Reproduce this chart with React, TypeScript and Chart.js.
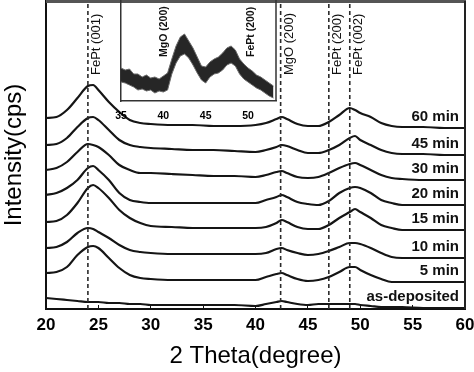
import React, { useEffect, useRef } from 'react';
import { Chart, registerables } from 'chart.js';

Chart.register(...registerables);

const FONT = "'Liberation Sans', Arial, Helvetica, sans-serif";

// 2θ positions (degree) at which the main patterns were read
const twoTheta = [20, 21, 22, 23, 24, 24.5, 25, 26, 27, 28, 29, 30, 32, 34, 36, 38, 40, 41, 42, 42.5, 43, 44, 45, 46, 47, 48, 49, 49.5, 50, 51, 52, 53, 54, 56, 58, 60];

const seriesLabels = ['60 min', '45 min', '30 min', '20 min', '15 min', '10 min', '5 min', 'as-deposited'];

// stacked intensity (arbitrary units, offset per pattern)
const min60 = [191, 192, 199, 211, 223, 224, 219, 207, 197, 189, 186, 185, 184, 184, 183, 183, 184, 186, 190, 192, 190, 185, 183, 183, 187, 194, 201, 199, 196, 192, 186, 183, 182, 182, 181, 181];
const min45 = [164, 165, 171, 182, 191, 192, 189, 179, 169, 164, 162, 161, 160, 159, 159, 158, 157, 159, 162, 164, 163, 159, 156, 156, 159, 164, 171, 173, 169, 164, 159, 156, 155, 155, 154, 154];
const min30 = [139, 141, 147, 157, 165, 164, 162, 154, 144, 139, 136, 136, 135, 134, 133, 133, 132, 134, 137, 138, 136, 132, 131, 132, 136, 141, 145, 146, 144, 139, 134, 131, 130, 129, 129, 129];
const min20 = [114, 116, 121, 129, 141, 143, 139, 129, 116, 109, 107, 106, 106, 106, 106, 106, 106, 109, 112, 114, 112, 107, 105, 104, 108, 116, 121, 122, 121, 116, 109, 106, 104, 104, 104, 104];
const min15 = [87, 88, 94, 106, 121, 124, 121, 111, 99, 91, 86, 83, 82, 81, 81, 81, 81, 82, 86, 89, 87, 82, 80, 80, 84, 91, 97, 100, 97, 91, 84, 81, 79, 79, 79, 79];
const min10 = [61, 62, 67, 76, 81, 80, 77, 71, 64, 59, 57, 56, 55, 55, 55, 55, 55, 56, 60, 61, 59, 56, 54, 55, 58, 62, 66, 66, 65, 61, 56, 52, 51, 51, 51, 51];
const min5 = [36, 37, 42, 54, 62, 63, 61, 51, 41, 34, 31, 30, 29, 29, 29, 29, 29, 32, 35, 36, 34, 30, 28, 29, 32, 37, 42, 42, 39, 34, 30, 27, 27, 27, 27, 27];
const asDeposited = [11, 10, 9, 8, 7, 7, 7, 6, 6, 5, 5, 4, 4, 4, 4, 4, 3, 5, 7, 8, 7, 5, 4, 5, 5, 5, 5, 5, 4, 3, 2, 2, 2, 1, 1, 1];

const seriesValues = [min60, min45, min30, min20, min15, min10, min5, asDeposited];

// reference peak positions (dashed lines)
const peakPositions = [24.0, 42.4, 47.0, 49.0];
const peakLabels = ['FePt (001)', 'MgO (200)', 'FePt (200)', 'FePt (002)'];

// inset pattern: upper / lower envelope of the noisy trace
const insetTheta = [35, 35.5, 36, 36.5, 37, 37.5, 38, 38.5, 39, 39.5, 40, 40.5, 41, 41.5, 42, 42.5, 43, 43.5, 44, 44.5, 45, 45.5, 46, 46.5, 47, 47.5, 48, 48.5, 49, 49.5, 50, 50.5, 51, 51.5, 52, 52.5, 53];
const insetUpper = [33, 31, 32, 27, 27, 24, 26, 23, 24, 22, 25, 28, 42, 55, 64, 67, 60, 53, 44, 35, 34, 39, 42, 44, 48, 53, 55, 51, 42, 37, 33, 30, 26, 24, 21, 18, 15];
const insetLower = [19, 18, 16, 14, 11, 12, 10, 11, 8, 10, 9, 11, 27, 38, 45, 47, 43, 36, 28, 21, 18, 24, 27, 28, 31, 36, 38, 35, 27, 22, 19, 16, 13, 11, 8, 5, 3];
const insetPeakLabels = ['MgO (200)', 'FePt (200)'];

const mainXTicks = { min: 20, max: 60, step: 5 };
const insetXTicks = { min: 35, max: 53.3, step: 5 };

export default function App() {
  const mainRef = useRef<HTMLCanvasElement>(null);
  const insetRef = useRef<HTMLCanvasElement>(null);

  useEffect(() => {
    document.body.style.margin = '0';
    const mainCanvas = mainRef.current!;
    const insetCanvas = insetRef.current!;

    const curveSets = seriesValues.map((vals, i) => ({
      label: seriesLabels[i],
      data: twoTheta.map((x, j) => ({ x, y: vals[j] })),
      borderColor: '#151515',
      borderWidth: 2.2,
      pointRadius: 0,
      cubicInterpolationMode: 'monotone' as const,
      fill: false,
    }));
    const dashSets = peakPositions.map((p, i) => ({
      label: peakLabels[i],
      data: [{ x: p, y: 0 }, { x: p, y: 308 }],
      borderColor: '#2a2a2a',
      borderWidth: 1.6,
      borderDash: [4, 3],
      pointRadius: 0,
      fill: false,
    }));

    const mainDecor = {
      id: 'mainDecor',
      afterDraw(chart: any) {
        const { ctx, chartArea, scales } = chart;
        const xs = scales.x;
        const ys = scales.y;
        ctx.save();
        ctx.strokeStyle = '#555';
        ctx.lineWidth = 3;
        ctx.beginPath();
        ctx.moveTo(chartArea.left, chartArea.top + 0.5);
        ctx.lineTo(chartArea.right + 1, chartArea.top + 0.5);
        ctx.stroke();
        ctx.strokeStyle = '#222';
        ctx.lineWidth = 2;
        ctx.beginPath();
        ctx.moveTo(chartArea.right, chartArea.top);
        ctx.lineTo(chartArea.right, chartArea.bottom);
        ctx.stroke();
        ctx.fillStyle = '#111';
        ctx.font = `13px ${FONT}`;
        ctx.textAlign = 'left';
        ctx.textBaseline = 'alphabetic';
        peakPositions.forEach((p, i) => {
          const px = xs.getPixelForValue(p);
          ctx.save();
          ctx.translate(px + 12.5, chartArea.top + 74);
          ctx.rotate(-Math.PI / 2);
          ctx.fillText(peakLabels[i], 0, 0);
          ctx.restore();
        });
        ctx.font = `bold 15px ${FONT}`;
        ctx.textAlign = 'right';
        ctx.textBaseline = 'alphabetic';
        seriesValues.forEach((vals, i) => {
          const y = ys.getPixelForValue(vals[vals.length - 1]);
          ctx.fillText(seriesLabels[i], chartArea.right - 6, y - 7);
        });
        ctx.restore();
      },
    };

    const mainChart = new Chart(mainCanvas, {
      type: 'line',
      data: { datasets: [...dashSets, ...curveSets] as any },
      options: {
        responsive: false,
        animation: false,
        events: [],
        layout: { padding: { left: 0, top: 1, right: 9, bottom: 0 } },
        plugins: { legend: { display: false }, tooltip: { enabled: false } },
        scales: {
          x: {
            type: 'linear',
            min: mainXTicks.min,
            max: mainXTicks.max,
            afterFit: (s: any) => { s.height = 63; s.paddingRight = 0; s.paddingLeft = 0; },
            grid: { display: true, drawOnChartArea: false, drawTicks: true, tickLength: -4, color: '#111', lineWidth: 1 },
            border: { display: true, color: '#111', width: 2 },
            ticks: { stepSize: mainXTicks.step, color: '#000', padding: 10, font: { family: FONT, size: 17, weight: 'bold' }, includeBounds: false },
            title: { display: true, text: '2 Theta(degree)', color: '#000', font: { family: FONT, size: 24 }, padding: { top: 0, bottom: 1 } },
          },
          y: {
            type: 'linear',
            min: 0,
            max: 308,
            afterFit: (s: any) => { s.width = 46; },
            grid: { display: false },
            border: { display: true, color: '#111', width: 2 },
            ticks: { display: false },
            title: { display: true, text: 'Intensity(cps)', color: '#000', font: { family: FONT, size: 24 }, padding: { top: 0, bottom: 0 } },
          },
        },
      },
      plugins: [mainDecor],
    });

    const insetDecor = {
      id: 'insetDecor',
      afterDraw(chart: any) {
        const { ctx, chartArea, scales } = chart;
        const xs = scales.x;
        ctx.save();
        ctx.strokeStyle = '#333';
        ctx.lineWidth = 1.5;
        ctx.beginPath();
        ctx.moveTo(chartArea.right, chartArea.top);
        ctx.lineTo(chartArea.right, chartArea.bottom);
        ctx.stroke();
        ctx.fillStyle = '#111';
        ctx.font = `bold 10.5px ${FONT}`;
        ctx.textAlign = 'left';
        ctx.textBaseline = 'alphabetic';
        [40.4, 50.7].forEach((p, i) => {
          const px = xs.getPixelForValue(p);
          ctx.save();
          ctx.translate(px, chartArea.top + 57);
          ctx.rotate(-Math.PI / 2);
          ctx.fillText(insetPeakLabels[i], 0, 0);
          ctx.restore();
        });
        ctx.restore();
      },
    };

    const insetChart = new Chart(insetCanvas, {
      type: 'line',
      data: {
        datasets: [
          {
            label: 'upper',
            data: insetTheta.map((x, i) => ({ x, y: insetUpper[i] })),
            borderColor: '#6a6a6a',
            borderWidth: 1,
            pointRadius: 0,
            tension: 0,
            fill: false,
          },
          {
            label: 'lower',
            data: insetTheta.map((x, i) => ({ x, y: insetLower[i] })),
            borderColor: '#6a6a6a',
            borderWidth: 1,
            pointRadius: 0,
            tension: 0,
            fill: '-1',
            backgroundColor: '#262626',
          },
        ] as any,
      },
      options: {
        responsive: false,
        animation: false,
        events: [],
        layout: { padding: { left: 0, top: 0, right: 14, bottom: 0 } },
        plugins: { legend: { display: false }, tooltip: { enabled: false } },
        scales: {
          x: {
            type: 'linear',
            min: insetXTicks.min,
            max: insetXTicks.max,
            afterFit: (s: any) => { s.height = 19; s.paddingLeft = 0; s.paddingRight = 0; },
            grid: { display: false },
            border: { display: true, color: '#333', width: 1.5 },
            ticks: { stepSize: insetXTicks.step, color: '#000', padding: 1, font: { family: FONT, size: 10.5, weight: 'bold' }, includeBounds: false },
          },
          y: {
            type: 'linear',
            min: 0,
            max: 101,
            afterFit: (s: any) => { s.width = 21; },
            grid: { display: false },
            border: { display: true, color: '#333', width: 1.5 },
            ticks: { display: false },
          },
        },
      },
      plugins: [insetDecor],
    });

    return () => {
      mainChart.destroy();
      insetChart.destroy();
    };
  }, []);

  return (
    <div style={{ position: 'relative', width: 474, height: 372, background: '#fff', overflow: 'hidden' }}>
      <canvas ref={mainRef} width={474} height={372} style={{ position: 'absolute', left: 0, top: 0, width: 474, height: 372 }} />
      <canvas ref={insetRef} width={190} height={120} style={{ position: 'absolute', left: 100, top: 0, width: 190, height: 120 }} />
    </div>
  );
}
